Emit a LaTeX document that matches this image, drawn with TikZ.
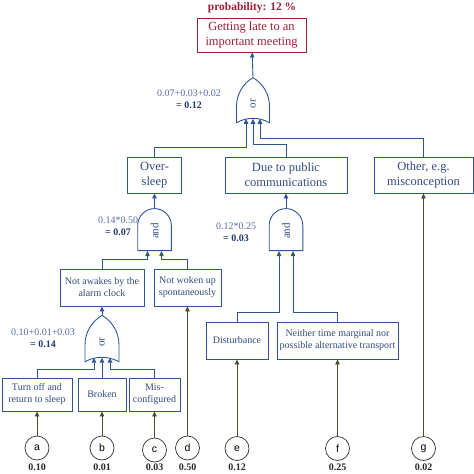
\documentclass[tikz,border=0pt]{standalone}
\usepackage{fontspec}
\setmainfont{Liberation Serif}
\newfontfamily\letterfont{Liberation Sans}
\usepackage{tikz}
\usetikzlibrary{shapes.gates.logic.US, arrows.meta, positioning, calc}
\definecolor{ftblue}{RGB}{47,85,151}
\definecolor{fttext}{RGB}{50,75,130}
\definecolor{ftred}{RGB}{158,30,55}
\definecolor{ftolive}{RGB}{78,76,44}
\definecolor{ftlabel}{RGB}{85,110,165}
\definecolor{ftbold}{RGB}{35,55,110}
\tikzstyle{event} = [rectangle, draw=ftblue, line width=0.9pt, text=fttext, align=center, inner sep=1pt, font=\fontsize{10}{12}\selectfont]
\tikzstyle{midevent} = [event, font=\fontsize{12.5}{15}\selectfont]
\tikzstyle{topevent} = [event, draw=ftred, text=ftred, font=\fontsize{12.5}{15}\selectfont]
\tikzstyle{gate} = [draw=ftblue, line width=0.9pt, rotate=90, text=fttext, inner sep=0pt, font=\fontsize{11}{12}\selectfont]
\tikzstyle{basic} = [circle, draw=black!80, line width=0.7pt, minimum size=24pt, inner sep=0pt, font=\letterfont\fontsize{10.5}{12}\selectfont]
\tikzstyle{probtext} = [align=center, text=ftlabel, font=\fontsize{10}{12.5}\selectfont]
\tikzstyle{prob} = [text=black!85, inner sep=1pt, font=\bfseries\fontsize{10}{11}\selectfont]
\tikzstyle{arrow} = [line width=0.9pt, draw=ftblue, -{Triangle[length=5pt, width=4.5pt]}]
\tikzstyle{inarrow} = [line width=0.9pt, draw=ftolive, -{Triangle[length=5pt, width=4.5pt]}]

\begin{document}
\begin{tikzpicture}[x=1pt, y=-1pt]
  \useasboundingbox (0,0) rectangle (474,474);
  \clip (0,0) rectangle (474,474);

  \node[text=ftred, font=\bfseries\fontsize{11.5}{13}\selectfont, anchor=base] (title) at (252,10.5) {probability: 12 \%};
  \node[topevent, minimum width=109pt, minimum height=34pt] (late) at (251.5,35) {Getting late to an\\important meeting};

  % top gate
  \node[gate, or gate US, logic gate inputs=nnn, minimum width=41pt, minimum height=33pt] (ortop) at (253,103.5) {or};
  \node[probtext] (ptop) at (189,99) {0.07+0.03+0.02\\\textcolor{ftbold}{\textbf{= 0.12}}};

  \node[midevent, minimum width=54pt, minimum height=36pt] (oversleep) at (154.5,175) {Over-\\sleep};
  \node[midevent, minimum width=122pt, minimum height=36pt] (public) at (286,175) {Due to public\\communications};
  \node[midevent, minimum width=99pt, minimum height=36pt] (other) at (423.5,175) {Other, e.g.\\misconception};

  % and gates
  \node[gate, and gate US, logic gate inputs=nn, minimum width=42pt, minimum height=28pt] (andsleep) at (154.5,231) {and};
  \node[probtext] (psleep) at (118,226) {0.14*0.50\\\textcolor{ftbold}{\textbf{= 0.07}}};
  \node[gate, and gate US, logic gate inputs=nn, minimum width=42pt, minimum height=28pt] (andpublic) at (286,231) {and};
  \node[probtext] (ppublic) at (236,232) {0.12*0.25\\\textcolor{ftbold}{\textbf{= 0.03}}};

  \node[event, minimum width=84pt, minimum height=37pt] (alarm) at (102,287.5) {Not awakes by the\\alarm clock};
  \node[event, minimum width=67pt, minimum height=37pt] (woken) at (187.5,287.5) {Not woken up\\spontaneously};
  \node[event, minimum width=62pt, minimum height=37pt] (disturb) at (237,340.5) {Disturbance};
  \node[event, minimum width=121pt, minimum height=37pt] (margin) at (337.5,340.5) {Neither time marginal nor\\possible alternative transport};

  % alarm gate
  \node[gate, or gate US, logic gate inputs=nnn, minimum width=40pt, minimum height=34pt] (oralarm) at (102,342) {or};
  \node[probtext] (palarm) at (43,338) {0.10+0.01+0.03\\\textcolor{ftbold}{\textbf{= 0.14}}};

  \node[event, minimum width=70pt, minimum height=33pt] (turnoff) at (37,394.5) {Turn off and\\return to sleep};
  \node[event, minimum width=48pt, minimum height=33pt] (broken) at (102,394.5) {Broken};
  \node[event, minimum width=51pt, minimum height=33pt] (misconf) at (154.5,394.5) {Mis-\\configured};

  % basic events
  \node[basic] (a) at (37,448) {a};
  \node[basic] (b) at (102,448) {b};
  \node[basic] (c) at (154.5,450) {c};
  \node[basic] (d) at (187.5,448) {d};
  \node[basic] (e) at (237,448.5) {e};
  \node[basic] (f) at (337.5,448.5) {f};
  \node[basic] (g) at (423.5,448.5) {g};
  \node[prob, below=2pt of a] (pa) {0.10};
  \node[prob, below=2pt of b] (pb) {0.01};
  \node[prob, below=0pt of c] (pc) {0.03};
  \node[prob, below=2pt of d] (pd) {0.50};
  \node[prob, below=1.5pt of e] (pe) {0.12};
  \node[prob, below=1.5pt of f] (pf) {0.25};
  \node[prob, below=1.5pt of g] (pg) {0.02};

  \draw[arrow] (ortop.output) -- (late);
  \draw[arrow] (oversleep.north) -- ++(0,-9) -| ($(ortop.input 2)+(-7,0)$);
  \draw[arrow] (public.north) -- ++(0,-12) -| (ortop.input 2);
  \draw[arrow] (other.north) -- ++(0,-18) -| ($(ortop.input 2)+(7,0)$);
  \draw[arrow] (andsleep.output) -- (oversleep);
  \draw[arrow] (andpublic.output) -- (public);
  \draw[arrow] (alarm.north) -- ++(0,-9) -| ($(andsleep.west)+(-7,0)$);
  \draw[arrow] (woken.north) -- ++(0,-9) -| ($(andsleep.west)+(7,0)$);
  \draw[arrow] (disturb.north) -- ++(0,-9) -| ($(andpublic.west)+(-7,0)$);
  \draw[arrow] (margin.north) -- ++(0,-9) -| ($(andpublic.west)+(7,0)$);
  \draw[arrow] (oralarm.output) -- (alarm);
  \draw[arrow] (turnoff.north) -- ++(0,-8) -| ($(oralarm.input 2)+(-8,0)$);
  \draw[arrow] (broken.north) -- (oralarm.input 2);
  \draw[arrow] (misconf.north) -- ++(0,-8) -| ($(oralarm.input 2)+(8,0)$);

  \draw[inarrow] (a) -- (turnoff);
  \draw[inarrow] (b) -- (broken);
  \draw[inarrow] (c) -- (misconf);
  \draw[inarrow] (d) -- (woken);
  \draw[inarrow] (e) -- (disturb);
  \draw[inarrow] (f) -- (margin);
  \draw[inarrow] (g) -- (other);
\end{tikzpicture}
\end{document}
